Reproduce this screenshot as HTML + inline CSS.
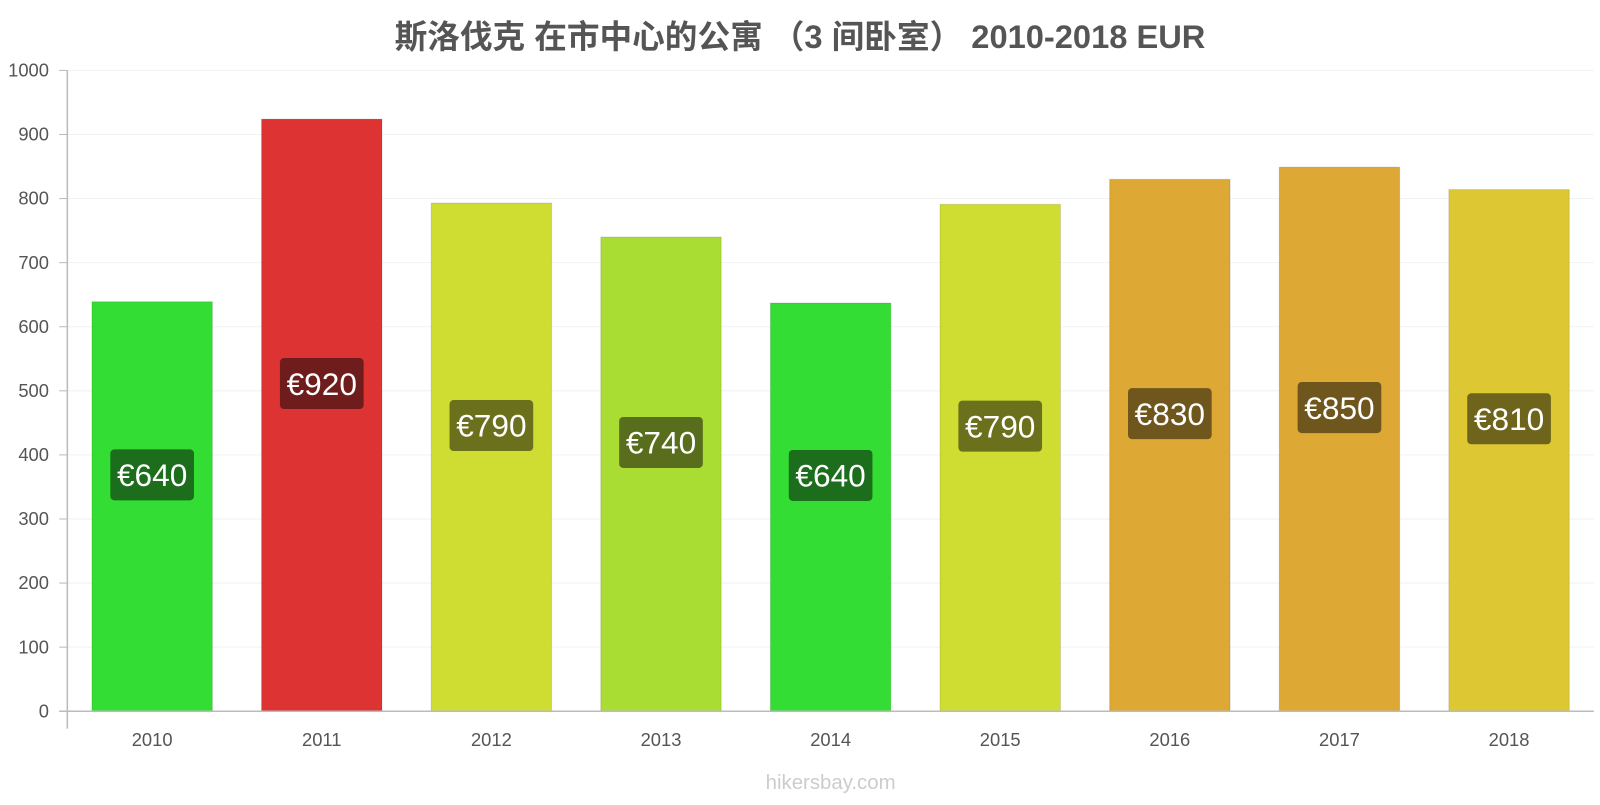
<!DOCTYPE html>
<html><head><meta charset="utf-8"><style>
body{margin:0;background:#fff;}
svg text{font-family:"Liberation Sans","Noto Sans CJK SC",sans-serif;}
</style></head><body>
<svg id="chart" width="1600" height="800" viewBox="0 0 1568 784" xmlns="http://www.w3.org/2000/svg">
<text x="784" y="47" text-anchor="middle" font-size="32" font-weight="bold" fill="#555">斯洛伐克 在市中心的公寓 （3 间卧室） 2010-2018 EUR</text>
<g id="grid"></g><g id="bars"></g><g id="axes"></g>
<text x="814" y="773" text-anchor="middle" font-size="20" fill="#ccc">hikersbay.com</text>
</svg>
<script>
const categories=["2010","2011","2012","2013","2014","2015","2016","2017","2018"];
const values=[639,924,793,740,637,791,830,849,814];
const labels=["€640","€920","€790","€740","€640","€790","€830","€850","€810"];
const colors=["#33dd33","#dd3333","#cfdd33","#aadd33","#33dd33","#cfdd33","#dda833","#dda833","#ddc833"];
const labelColors=["#1c6e1c","#6e1c1c","#6b701c","#586e1c","#1c6e1c","#6b701c","#6e561c","#6e561c","#6e641c"];
const yTicks=[0,100,200,300,400,500,600,700,800,900,1000];
const NS="http://www.w3.org/2000/svg";
const x0=66,x1=1562,y0=697,y1=69;
const yS=v=>y0-(v/1000)*(y0-y1);
const bw=(x1-x0)/categories.length;
const xC=i=>x0+bw*(i+0.5);
function mk(t,a,p){const e=document.createElementNS(NS,t);for(const k in a)e.setAttribute(k,a[k]);p.appendChild(e);return e;}
const grid=document.getElementById('grid'),bars=document.getElementById('bars'),axes=document.getElementById('axes');
yTicks.forEach(v=>{
 const l=mk('line',{x1:x0,x2:x1,y1:yS(v),y2:yS(v),stroke:'#f2f2f2','stroke-width':1},grid);
 
 
 const t=mk('text',{x:48,y:yS(v)+6,'text-anchor':'end','font-size':18,fill:'#555'},axes);
 t.textContent=v;
 
 
 mk('line',{x1:58,x2:x0,y1:yS(v),y2:yS(v),stroke:'#bbb'},axes);
});
categories.forEach((c,i)=>{
 const cx=xC(i),top=yS(values[i]);
 const r=mk('rect',{x:cx-59,y:top,width:118,height:y0-top,fill:colors[i],stroke:'rgba(0,0,0,0.12)'},bars);
 
 
 const ly=(top+y0)/2-31;
 const b=mk('rect',{x:cx-41,y:ly-25,width:82,height:50,rx:4,fill:labelColors[i]},bars);
 
 
 const t=mk('text',{x:cx,y:ly+11,'text-anchor':'middle','font-size':31,fill:'#fff'},bars);
 t.textContent=labels[i];
 
 
 const xl=mk('text',{x:cx,y:731,'text-anchor':'middle','font-size':18,fill:'#555'},axes);
 xl.textContent=c;
 
 
});
const ya=mk('line',{x1:x0,x2:x0,y1:y1,y2:714,stroke:'#bbb','stroke-width':1.5},axes);


const xa=mk('line',{x1:58,x2:x1,y1:y0,y2:y0,stroke:'#bbb','stroke-width':1.5},axes);


</script>
</body></html>
